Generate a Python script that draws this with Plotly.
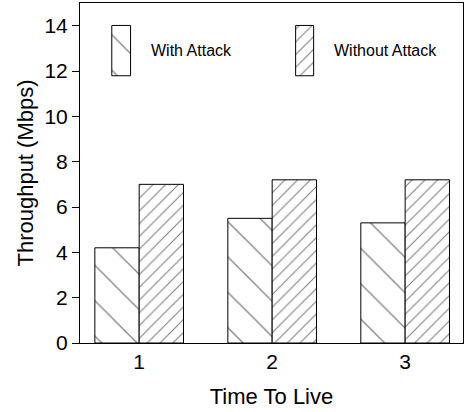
import plotly.graph_objects as go

ttl = [1, 2, 3]
with_attack = [4.2, 5.5, 5.3]
without_attack = [7.0, 7.2, 7.2]
y_ticks = [0, 2, 4, 6, 8, 10, 12, 14]

FONT = "Liberation Sans, Arial, sans-serif"
HATCH = "black"

fig = go.Figure()
fig.add_trace(go.Bar(
    x=ttl, y=with_attack, name="With Attack", offsetgroup="a",
    marker=dict(color="white", line=dict(color="black", width=1),
                pattern=dict(shape="\\", size=25, solidity=0.05, fgcolor=HATCH, bgcolor="white")),
))
fig.add_trace(go.Bar(
    x=ttl, y=without_attack, name="Without Attack", offsetgroup="b",
    marker=dict(color="white", line=dict(color="black", width=1),
                pattern=dict(shape="/", size=9, solidity=0.12, fgcolor=HATCH, bgcolor="white")),
))

# legend swatches drawn on an overlay axis spanning the plot area (0..1)
legend_items = [("With Attack", "\\", 25, 0.05, 0.083, 0.132), ("Without Attack", "/", 9, 0.12, 0.563, 0.61)]
for label, shape, size, sol, x0, x1 in legend_items:
    fig.add_trace(go.Scatter(
        x=[x0, x1, x1, x0, x0], y=[0.786, 0.786, 0.934, 0.934, 0.786],
        xaxis="x2", yaxis="y2", mode="lines", fill="toself",
        line=dict(color="black", width=1), fillcolor="white",
        fillpattern=dict(shape=shape, size=size, solidity=sol, fgcolor=HATCH, bgcolor="white"),
        showlegend=False, hoverinfo="skip",
    ))
    fig.add_annotation(x=x1 + 0.047, y=0.86, xref="x2", yref="y2", text=label,
                       showarrow=False, xanchor="left", yanchor="middle",
                       font=dict(size=16, color="black", family=FONT))

fig.update_layout(
    width=474, height=412,
    margin=dict(l=80, r=11, t=3, b=69),
    plot_bgcolor="white", paper_bgcolor="white",
    font=dict(family=FONT, color="black"),
    showlegend=False,
    barmode="group", bargap=1/3, bargroupgap=0,
    xaxis=dict(
        range=[0.555, 3.435], tickvals=ttl, ticks="", showgrid=False, zeroline=False,
        showline=True, linecolor="black", linewidth=1, mirror=True,
        tickfont=dict(size=21), title=dict(text="Time To Live", font=dict(size=22), standoff=16),
    ),
    yaxis=dict(
        range=[0, 15], tickvals=y_ticks, ticks="outside", ticklen=7, tickcolor="black",
        showgrid=False, zeroline=False, showline=True, linecolor="black", linewidth=1, mirror=True,
        tickfont=dict(size=21), title=dict(text="Throughput (Mbps)", font=dict(size=22), standoff=4),
    ),
    xaxis2=dict(overlaying="x", range=[0, 1], visible=False, anchor="y2"),
    yaxis2=dict(overlaying="y", range=[0, 1], visible=False, anchor="x2"),
)

fig.write_html("out.html", config={"displayModeBar": False},
               post_script="document.body.style.margin='0';")
